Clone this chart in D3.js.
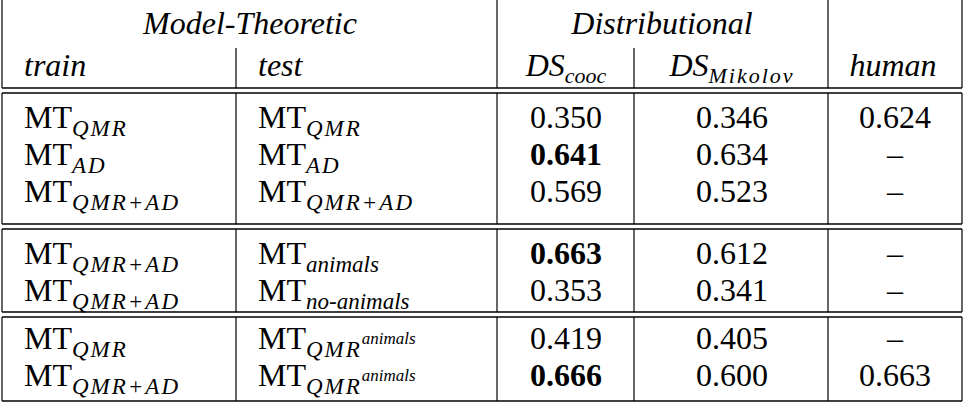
<!DOCTYPE html>
<html><head><meta charset="utf-8">
<script src="https://cdn.jsdelivr.net/npm/d3@7"></script>
<style>body{margin:0;background:#fff}svg text,svg tspan{font-family:"Liberation Serif","Times New Roman","DejaVu Serif",serif !important;fill:#000}</style>
</head><body><svg id="t"></svg>
<script>
// table content
const trainSubs = ["QMR","AD","QMR+AD","QMR+AD","QMR+AD","QMR","QMR+AD"]
const testSubs = ["QMR","AD","QMR+AD","animals","no-animals","QMR^animals","QMR^animals"]
const dsCooc = ["0.350","0.641","0.569","0.663","0.353","0.419","0.666"]
const dsMikolov = ["0.346","0.634","0.523","0.612","0.341","0.405","0.600"]
const human = ["0.624","–","–","–","–","–","0.663"]
const bold = [false,true,false,true,false,false,true]
const rowY = [128,165,202,264,301,349,386]

const W=964,H=405
const svg=d3.select('#t').attr('width',W).attr('height',H).attr('font-family','Liberation Serif')

function hline(y,x1=2,x2=962){svg.append('line').attr('x1',x1).attr('x2',x2).attr('y1',y).attr('y2',y).attr('stroke','#000').attr('stroke-width',1.6)}
function vline(x,y1,y2){svg.append('line').attr('x1',x).attr('x2',x).attr('y1',y1).attr('y2',y2).attr('stroke','#000').attr('stroke-width',1.2)}
function txt(x,y,s,anchor){return svg.append('text').attr('x',x).attr('y',y).attr('text-anchor',anchor||'start').attr('font-family','Liberation Serif').attr('font-size',s)}

// header
txt(250,34,32,'middle').attr('font-style','italic').text('Model-Theoretic')
txt(662,34,32,'middle').attr('font-style','italic').text('Distributional')
txt(24,76,32).attr('font-style','italic').text('train')
txt(258,76,32).attr('font-style','italic').text('test')
const ds1=txt(566,76,32,'middle').attr('font-style','italic')
ds1.append('tspan').text('DS'); ds1.append('tspan').attr('font-size',22).attr('dy',7).text('cooc')
const ds2=txt(732,76,32,'middle').attr('font-style','italic')
ds2.append('tspan').text('DS'); ds2.append('tspan').attr('font-size',22).attr('dy',7).attr('letter-spacing',2).text('Mikolov')
txt(893,76,32,'middle').attr('font-style','italic').text('human')

// rules
;[88,93,224,229,312,317,401].forEach(y=>hline(y))
;[2,962,497,828].forEach(x=>{vline(x,0,88);vline(x,93,224);vline(x,229,312);vline(x,317,401)})
;[236,634].forEach(x=>{vline(x,48,88);vline(x,93,224);vline(x,229,312);vline(x,317,401)})

function mt(x,y,sub){
  const t=txt(x,y,32)
  t.append('tspan').text('MT')
  const parts=sub.split('^')
  t.append('tspan').attr('font-size',23).attr('font-style','italic').attr('dy',8).attr('letter-spacing',/^[A-Z+]+$/.test(parts[0])?2:0).text(parts[0])
  if(parts[1]) t.append('tspan').attr('font-size',17).attr('font-style','italic').attr('dy',-13).text(parts[1])
}

rowY.forEach((y,i)=>{
  mt(24,y,trainSubs[i])
  mt(258,y,testSubs[i])
  txt(566,y,32,'middle').attr('font-weight',bold[i]?'bold':'normal').text(dsCooc[i])
  txt(732,y,32,'middle').text(dsMikolov[i])
  txt(895,y,32,'middle').text(human[i])
})
</script></body></html>
